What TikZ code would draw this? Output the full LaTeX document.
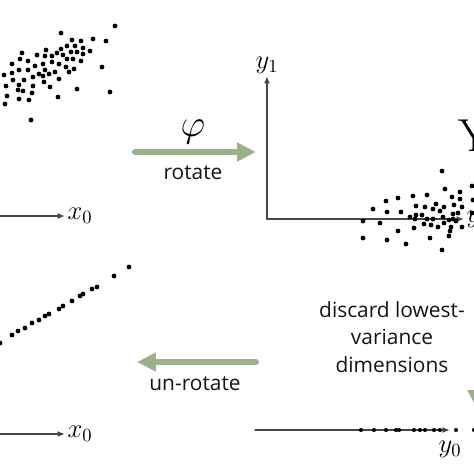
\documentclass[tikz,border=0pt]{standalone}
\usepackage{fontspec}
\newfontfamily\opensans{Open Sans}
\usetikzlibrary{arrows.meta}
\definecolor{sage}{RGB}{156,176,140}
\definecolor{axisgray}{RGB}{70,70,70}
\tikzset{
  axis/.style={draw=axisgray, line width=0.75pt, -{Latex[length=4pt,width=3.2pt]}},
  bigarrow/.style={draw=sage, line width=3.2pt, -{Triangle[length=0.36cm,width=0.34cm]}},
  caption/.style={font=\opensans\fontsize{11.3}{15}\selectfont, text=black!92, inner sep=0pt},
  mathlbl/.style={font=\fontsize{14.3}{16}\selectfont, inner sep=1pt}
}
\begin{document}
\begin{tikzpicture}[line cap=round,line join=round,x=0.019cm,y=-0.019cm]
\useasboundingbox (0,0) rectangle (474,474);
\coordinate (xa0) at (-10,216);
\coordinate (xa1) at (65,216);
\draw[axis] (xa0) -- (xa1) node[mathlbl, anchor=west] (lx0) {$x_0$};
\foreach \x/\y in {115/26,61/33,93/39,106/41,72/40,81/41,67/46,75/46,83/48,61/49,90/51,46/50,71/52,77/52,57/53,63/55,83/54,22/53,37/55,45/56,52/56,67/59,73/59,20/59,28/61,81/61,52/62,43/64,59/64,12/64,35/66,66/67,102/67,74/69,19/70,28/70,45/70,69/72,55/72,49/74,39/74,12/73,4/75,43/76,33/77,59/79,13/80,24/80,44/82,19/85,33/86,6/86,50/87,18/90,23/91,77/89,110/92,32/93,7/96,19/99,58/97,29/100,5/104,31/120}
  \fill (\x,\y) circle[radius=1.3pt];
\coordinate (rotS) at (135,152);
\coordinate (rotE) at (256,152);
\draw[bigarrow] (rotS) -- (rotE);
\node[font=\fontsize{21}{25}\selectfont] (phi) at (193,132) {$\varphi$};
\node[caption] (rot) at (193,173) {rotate};
\coordinate (o) at (267,219);
\coordinate (y1tip) at (267,76);
\coordinate (y0tip) at (464,219);
\draw[axis] (o) -- (y1tip) node[mathlbl, anchor=south] (ly1) {$y_1$};
\draw[axis] (o) -- (y0tip) node[mathlbl, anchor=west] (ly0) {$y_0$};
\node[font=\fontsize{25}{30}\selectfont, anchor=south west, inner sep=0pt] (bigY) at (458,152) {Y};
\foreach \x/\y in {442/171,445/189,460/192,386/201,398/198,413/196,427/195,452/197,460/199,373/209,387/212,401/212,416/206,425/207,433/209,436/204,444/207,454/205,462/207,440/211,416/215,422/215,453/214,458/213,363/221,380/223,410/217,415/219,427/219,433/219,443/217,449/220,453/219,456/221,414/228,424/224,431/225,438/227,444/223,451/227,450/231,449/236,462/227,398/231,363/238,387/240,406/244,430/238,442/250,472/186,473/200,472/213}
  \fill (\x,\y) circle[radius=1.3pt];
\coordinate (unS) at (256,362);
\coordinate (unE) at (137,362);
\draw[bigarrow] (unS) -- (unE);
\node[caption] (unrot) at (195,384) {un-rotate};
\node[caption, align=center] (disc) at (392,337) {discard lowest-\\variance\\dimensions};
\coordinate (dnS) at (477,270);
\coordinate (dnE) at (477,409);
\draw[bigarrow] (dnS) -- (dnE);
\coordinate (xb0) at (-10,434);
\coordinate (xb1) at (65,434);
\draw[axis] (xb0) -- (xb1) node[mathlbl, anchor=west] (lx0b) {$x_0$};
\foreach \x/\y in {129/267,114/276,97/287,92/289,83/294,80/296,72/301,63/306,59/309,49/314,45/316,39/320,32/323,25/328,18/331,12/335,0/343}
  \fill (\x,\y) circle[radius=1.3pt];
\coordinate (b0) at (255,430);
\coordinate (b1) at (450,430);
\draw[axis] (b0) -- (b1);
\node[mathlbl] (ly0b) at (450,449) {$y_0$};
\foreach \x in {361,374,386,396,399,414,420,425,434,440,456,474}
  \fill (\x,430) circle[radius=1.1pt];
\end{tikzpicture}
\end{document}
